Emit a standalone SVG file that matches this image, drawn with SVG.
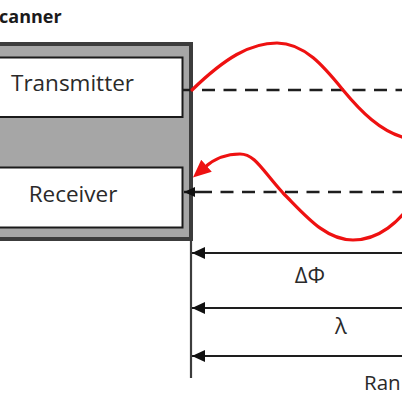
<svg xmlns="http://www.w3.org/2000/svg" width="402" height="402" viewBox="0 0 402 402">
<style>
.lbl{font-family:"Open Sans","DejaVu Sans",sans-serif;fill:#2a2a2a;text-anchor:middle}
.dash{stroke:#1e1e1e;stroke-width:2.5;stroke-dasharray:13 8.5;fill:none}
.solid{stroke:#1e1e1e;stroke-width:2;fill:none}
.wave{stroke:#ee1111;stroke-width:3.2;fill:none;stroke-linecap:round}
</style>
<defs>
<marker id="ah" markerUnits="userSpaceOnUse" markerWidth="14" markerHeight="14" refX="13" refY="6" orient="auto" viewBox="0 0 14 12">
<path d="M0,0 L13,6 L0,12 z" fill="#111"/>
</marker>
<marker id="ahs" markerUnits="userSpaceOnUse" markerWidth="12" markerHeight="12" refX="11" refY="5" orient="auto" viewBox="0 0 12 10">
<path d="M0,0 L11,5 L0,10 z" fill="#111"/>
</marker>
<marker id="ahr" markerUnits="userSpaceOnUse" markerWidth="20" markerHeight="20" refX="2" refY="8" orient="auto" viewBox="0 0 20 16">
<path d="M0,0 L18,8 L0,16 z" fill="#ee1111"/>
</marker>
</defs>
<text x="-1" y="23" style="font-family:'Open Sans','DejaVu Sans',sans-serif;font-weight:bold;font-size:18px;fill:#1a1a1a">canner</text>
<g id="scanner">
<rect x="-10" y="44" width="201" height="195" fill="#a6a6a6" stroke="#3c3c3c" stroke-width="4"/>
</g>
<g id="transmitter">
<rect x="-10" y="57.5" width="192.5" height="59.5" fill="#fff" stroke="#1a1a1a" stroke-width="2"/>
<text class="lbl" x="72.5" y="91" font-size="22.5">Transmitter</text>
</g>
<g id="receiver">
<rect x="-10" y="167.5" width="192.5" height="60" fill="#fff" stroke="#1a1a1a" stroke-width="2"/>
<text class="lbl" x="73" y="202" font-size="22.5">Receiver</text>
</g>
<g id="connectors">
<line x1="191" y1="239" x2="191" y2="378" stroke="#3c3c3c" stroke-width="2.2"/>
<line x1="182" y1="90" x2="193" y2="90" stroke="#1e1e1e" stroke-width="2.5"/>
<line class="dash" x1="202" y1="90" x2="410" y2="90"/>
<line class="dash" x1="199" y1="192" x2="410" y2="192"/>
<line x1="199" y1="192" x2="184" y2="192" stroke="#1e1e1e" stroke-width="2.5" marker-end="url(#ahs)"/>
<line class="solid" x1="402" y1="253" x2="192" y2="253" marker-end="url(#ah)"/>
<line class="solid" x1="402" y1="308" x2="192" y2="308" marker-end="url(#ah)"/>
<line class="solid" x1="402" y1="356" x2="192" y2="356" marker-end="url(#ah)"/>
<path class="wave" d="M192,90 C225,58 250,43 277,43 C305,43 325,68 343,90 C362,113 380,130 402,137 L404,137.5"/>
<path class="wave" d="M410,205 C400,220 380,240 353,240 C325,240 305,215 283,193 C262,170 255,154 240,154 C225,154 213,160 205,167" marker-end="url(#ahr)"/>
<text class="lbl" x="310" y="283" font-size="22">ΔΦ</text>
<text class="lbl" x="341" y="334" font-size="22">λ</text>
<text class="lbl" x="364" y="390" font-size="20.5" style="text-anchor:start">Ran</text>
</g>
</svg>
